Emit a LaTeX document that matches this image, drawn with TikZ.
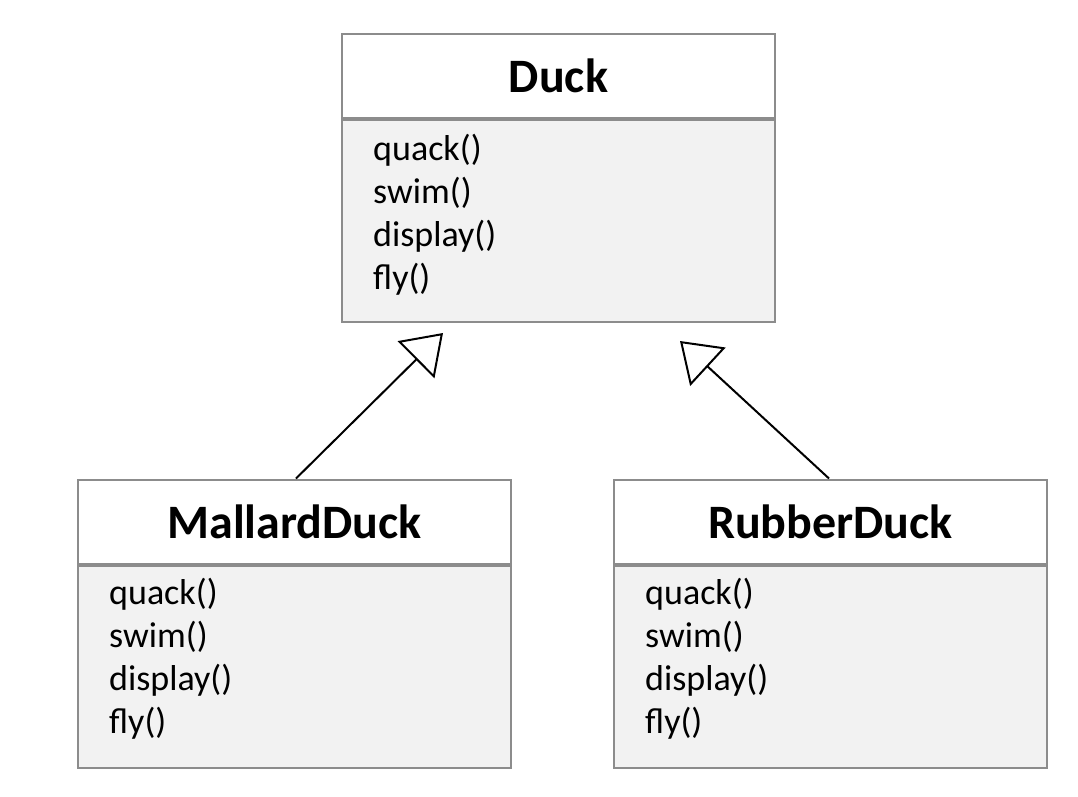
\documentclass[tikz,border=0pt]{standalone}
\usepackage{fontspec}
\setmainfont{Carlito}
\usetikzlibrary{arrows.meta}
\definecolor{bord}{HTML}{8C8C8C}
\definecolor{bodyc}{HTML}{F2F2F2}
\begin{document}
\begin{tikzpicture}[x=1pt,y=-1pt,
  head/.style={draw=bord,line width=2pt,fill=white,minimum width=433pt,minimum height=84pt,inner sep=0pt,font=\fontsize{48}{54}\selectfont\bfseries},
  body/.style={draw=bord,line width=2pt,fill=bodyc,minimum width=433pt,minimum height=202pt,inner sep=0pt},
  meth/.style={anchor=west,font=\fontsize{36}{43}\selectfont,align=left,inner sep=0pt},
  inh/.style={line width=2pt,-{Triangle[open,length=38pt,width=52pt,line width=2pt]}}]
\useasboundingbox (0,0) rectangle (1078,796);
\node[head] (duckh) at (558.5,76) {Duck};
\node[body,anchor=north] (duckb) at (duckh.south) {};
\node[meth,anchor=north west] (duckm) at (373,134) {quack()\\swim()\\display()\\fly()};
\node[head] (malh) at (294.5,521.5) {MallardDuck};
\node[body,anchor=north] (malb) at (malh.south) {};
\node[meth,anchor=north west] (malm) at (109,578) {quack()\\swim()\\display()\\fly()};
\node[head] (rubh) at (830.5,521.5) {RubberDuck};
\node[body,anchor=north] (rubb) at (rubh.south) {};
\node[meth,anchor=north west] (rubm) at (645,578) {quack()\\swim()\\display()\\fly()};
\coordinate (t1) at (443,333);
\coordinate (t2) at (680,341);
\draw[inh] (malh.north -| 296,0) -- (t1);
\draw[inh] (rubh.north -| 829,0) -- (t2);
\end{tikzpicture}
\end{document}
